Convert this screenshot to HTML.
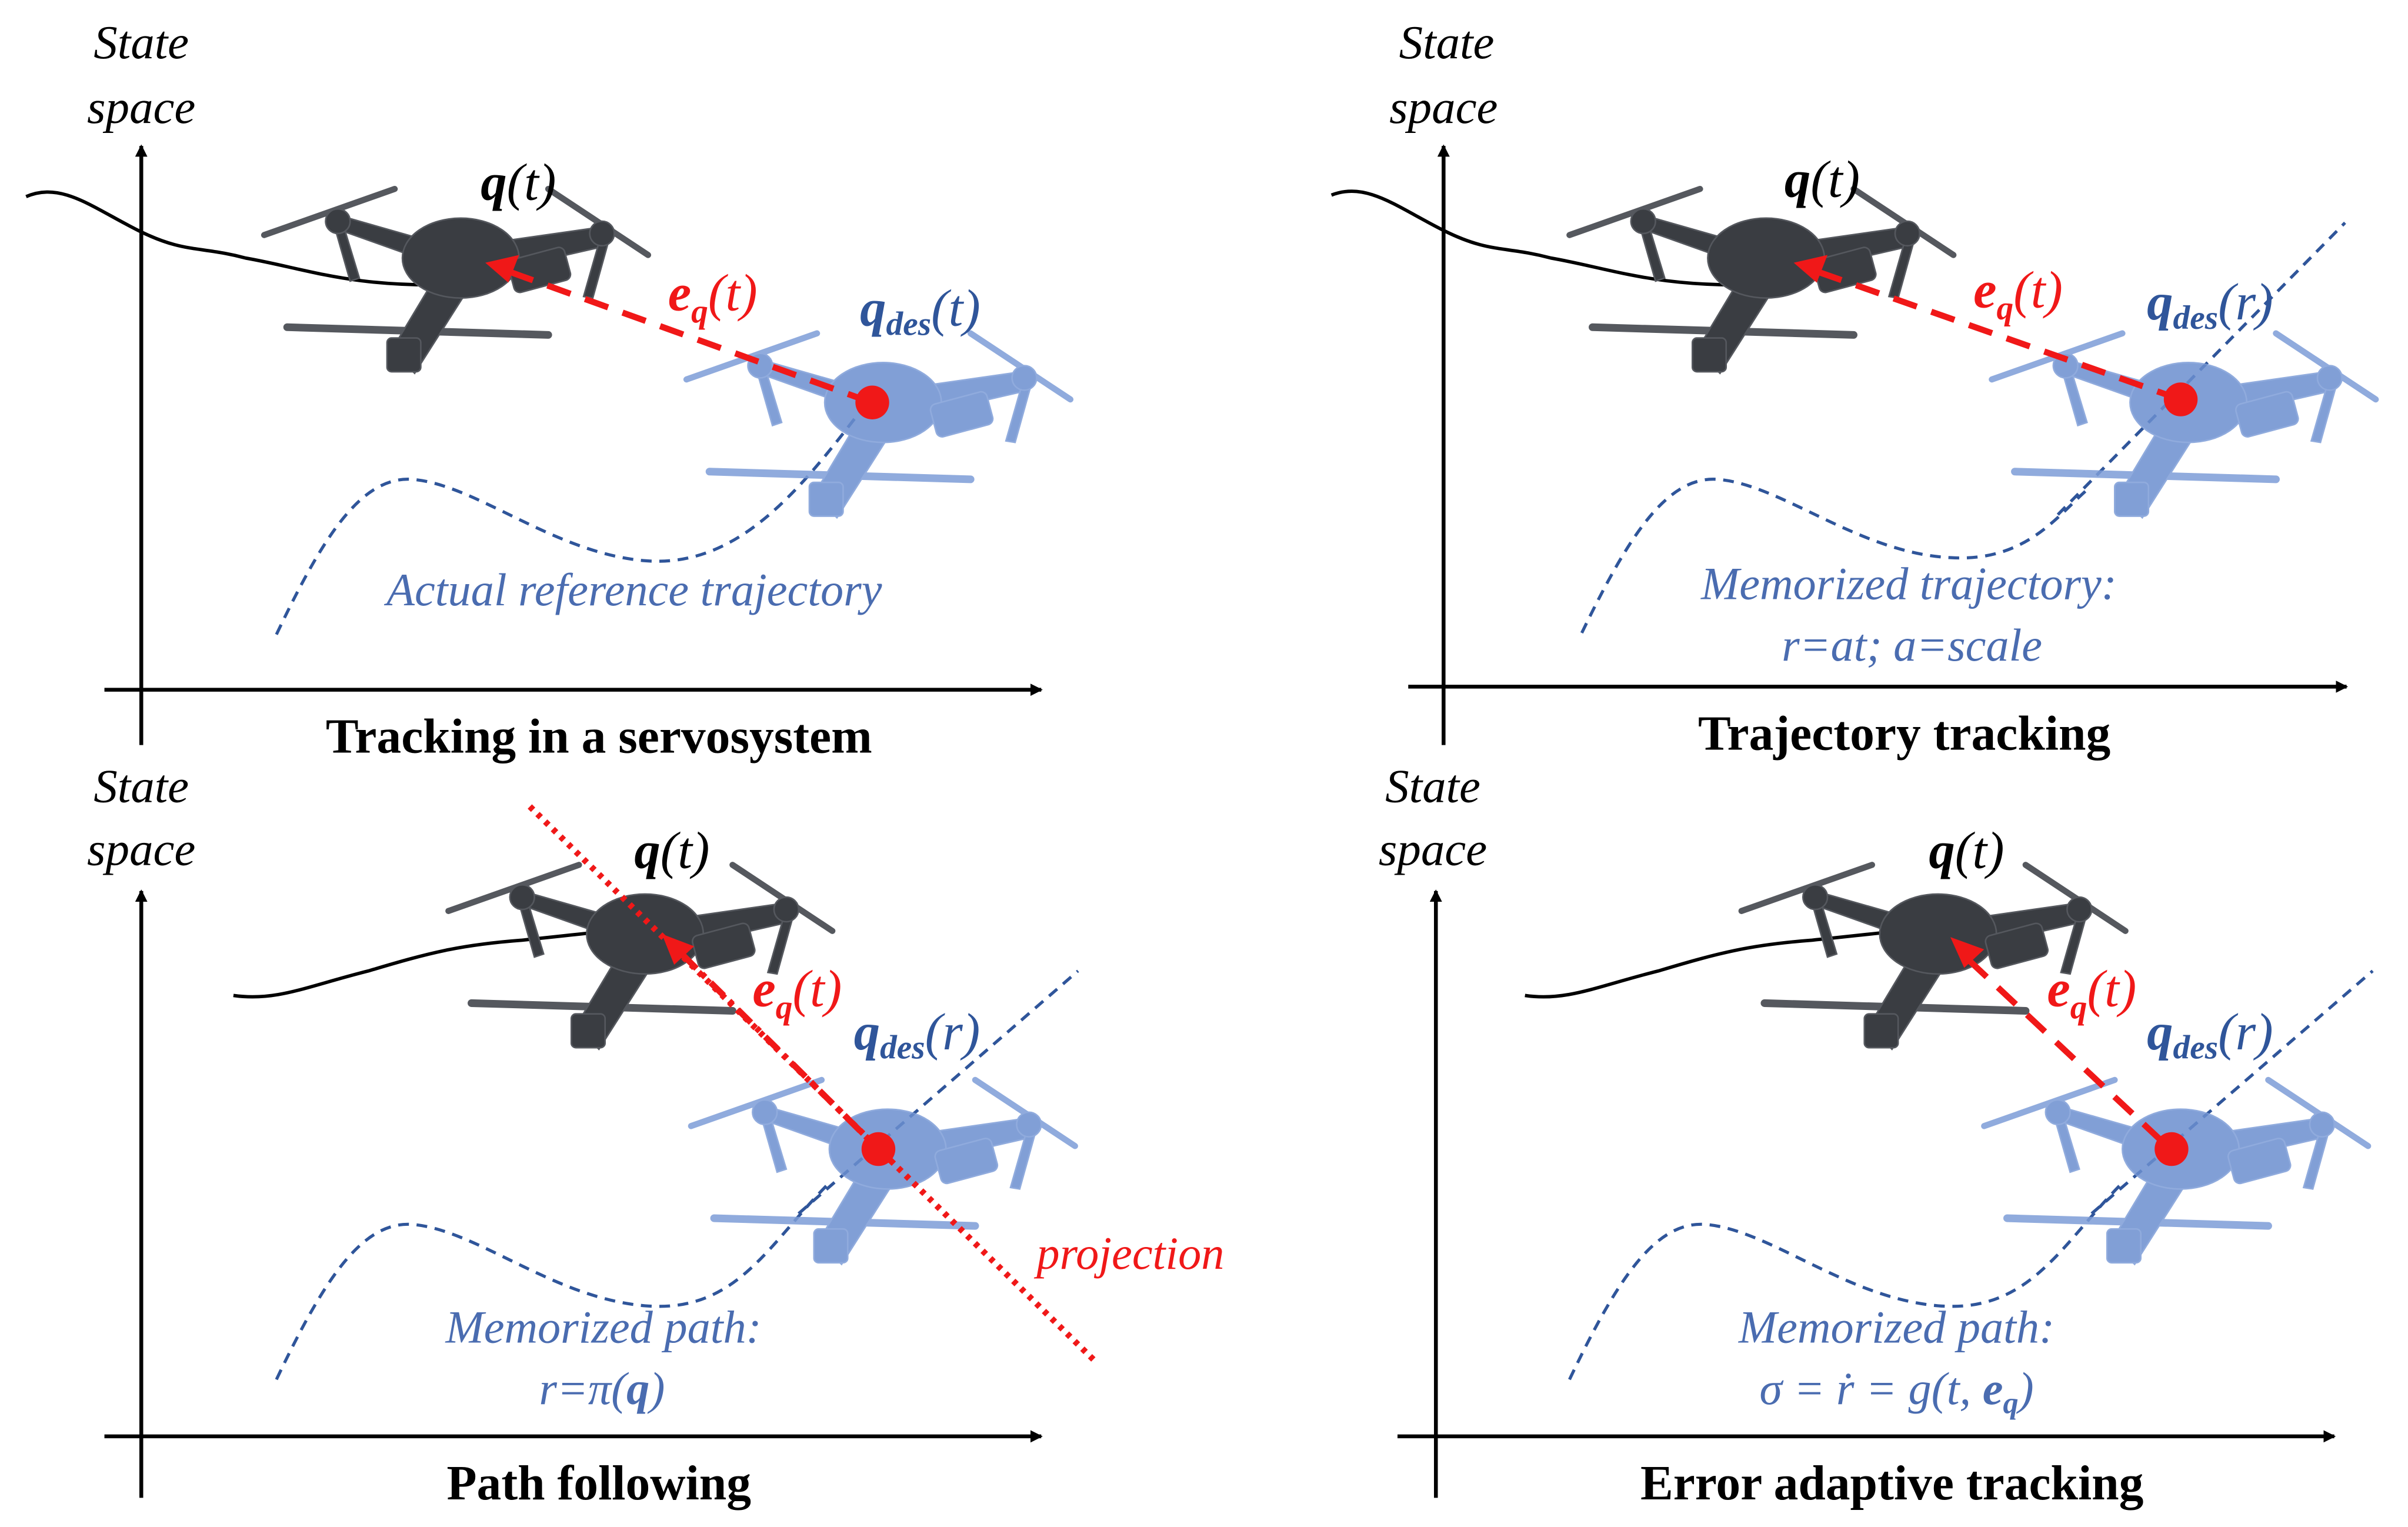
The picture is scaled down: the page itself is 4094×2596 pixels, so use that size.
<!DOCTYPE html>
<html><head><meta charset="utf-8"><style>
html,body{margin:0;padding:0;background:#fff;}
svg{display:block;}
text{font-family:"Liberation Serif",serif;}
.it{font-style:italic;}
.bt{font-weight:bold;}
</style></head><body>
<svg width="4094" height="2596" viewBox="0 0 1568 994" preserveAspectRatio="none" xmlns="http://www.w3.org/2000/svg">
<defs>
<marker id="ah" markerWidth="8" markerHeight="8" refX="7" refY="4" orient="auto" markerUnits="userSpaceOnUse"><path d="M0,0 L8,4 L0,8 z" fill="#000"/></marker>
<g id="drone">
 <line x1="-128" y1="-15" x2="-43" y2="-45" stroke-width="4" stroke-linecap="round"/>
 <line x1="57" y1="-45" x2="122" y2="-2" stroke-width="4" stroke-linecap="round"/>
 <line x1="-113" y1="45" x2="57" y2="50" stroke-width="5" stroke-linecap="round"/>
 <path d="M-80,-28 L-10,-8 L-5,8 L-78,-18 z"/>
 <path d="M90,-20 L20,-10 L25,8 L95,-8 z"/>
 <path d="M-15,10 L-45,60 L-30,75 L5,20 z"/>
 <rect x="-48" y="52" width="22" height="22" rx="3"/>
 <path d="M-82,-20 L-72,15 L-66,13 L-76,-20 z"/>
 <path d="M90,-10 L80,25 L86,26 L96,-10 z"/>
 <ellipse cx="0" cy="0" rx="38" ry="26"/>
 <rect x="30" y="2" width="38" height="22" rx="4" transform="rotate(-15 30 2)"/>
 <circle cx="-80" cy="-24" r="8"/>
 <circle cx="92" cy="-16" r="8"/>
</g>
</defs>

<!-- ===== Panel TL ===== -->
<text class="it" x="92" y="38" font-size="31" text-anchor="middle">State</text>
<text class="it" x="92" y="80" font-size="31" text-anchor="middle">space</text>
<line x1="92" y1="485" x2="92" y2="95" stroke="#000" stroke-width="2.5" marker-end="url(#ah)"/>
<line x1="68" y1="449" x2="678" y2="449" stroke="#000" stroke-width="2.5" marker-end="url(#ah)"/>
<path d="M17,128 C40,118 60,135 90,150 C120,165 130,160 160,168 C200,175 230,188 300,185" fill="none" stroke="#000" stroke-width="2.2"/>
<use href="#drone" x="300" y="168" fill="#3a3d42" stroke="#55585e"/>
<path d="M180,413 C210,350 235,310 268,312 C310,315 360,360 420,365 C480,370 520,320 560,268" fill="none" stroke="#2f559a" stroke-width="2" stroke-dasharray="7,5"/>
<use href="#drone" x="575" y="262" fill="#6c8fd0" stroke="#7d9dd8" opacity="0.85"/>
<line x1="332" y1="177" x2="562" y2="260" stroke="#f01818" stroke-width="4" stroke-dasharray="16,10"/>
<path d="M316,171 L338,166 L331,184 z" fill="#f01818"/>
<circle cx="568" cy="262" r="11" fill="#f01818"/>
<text class="it bt" x="313" y="130" font-size="34">q<tspan font-weight="normal">(t)</tspan></text>
<text class="it bt" x="435" y="202" font-size="34" fill="#f01818">e<tspan font-size="22" dy="8">q</tspan><tspan font-weight="normal" dy="-8">(t)</tspan></text>
<text class="it bt" x="560" y="212" font-size="34" fill="#2f559a">q<tspan font-size="22" dy="6">des</tspan><tspan font-weight="normal" dy="-6">(t)</tspan></text>
<text class="it" x="413" y="394" font-size="30" fill="#4a6cb0" text-anchor="middle">Actual reference trajectory</text>
<text class="bt" x="390" y="490" font-size="32" text-anchor="middle">Tracking in a servosystem</text>

<!-- ===== Panel TR ===== -->
<text class="it" x="942" y="38" font-size="31" text-anchor="middle">State</text>
<text class="it" x="940" y="80" font-size="31" text-anchor="middle">space</text>
<line x1="940" y1="485" x2="940" y2="95" stroke="#000" stroke-width="2.5" marker-end="url(#ah)"/>
<line x1="917" y1="447" x2="1528" y2="447" stroke="#000" stroke-width="2.5" marker-end="url(#ah)"/>
<path d="M867,127 C890,118 910,135 940,150 C970,165 980,160 1010,168 C1050,175 1080,188 1150,185" fill="none" stroke="#000" stroke-width="2.2"/>
<use href="#drone" x="1150" y="168" fill="#3a3d42" stroke="#55585e"/>
<path d="M1030,412 C1060,350 1085,310 1118,312 C1160,315 1210,360 1270,363 C1320,366 1340,335 1360,318" fill="none" stroke="#2f559a" stroke-width="2" stroke-dasharray="7,5"/>
<line x1="1340" y1="335" x2="1527" y2="145" stroke="#2f559a" stroke-width="2" stroke-dasharray="7,5"/>
<use href="#drone" x="1425" y="262" fill="#6c8fd0" stroke="#7d9dd8" opacity="0.85"/>
<line x1="1184" y1="177" x2="1414" y2="258" stroke="#f01818" stroke-width="4" stroke-dasharray="16,10"/>
<path d="M1168,171 L1190,166 L1183,184 z" fill="#f01818"/>
<circle cx="1420" cy="260" r="11" fill="#f01818"/>
<text class="it bt" x="1162" y="128" font-size="34">q<tspan font-weight="normal">(t)</tspan></text>
<text class="it bt" x="1285" y="200" font-size="34" fill="#f01818">e<tspan font-size="22" dy="8">q</tspan><tspan font-weight="normal" dy="-8">(t)</tspan></text>
<text class="it bt" x="1398" y="208" font-size="34" fill="#2f559a">q<tspan font-size="22" dy="6">des</tspan><tspan font-weight="normal" dy="-6">(r)</tspan></text>
<text class="it" x="1243" y="390" font-size="30" fill="#4a6cb0" text-anchor="middle">Memorized trajectory:</text>
<text class="it" x="1245" y="430" font-size="30" fill="#4a6cb0" text-anchor="middle">r=at;  a=scale</text>
<text class="bt" x="1240" y="488" font-size="32" text-anchor="middle">Trajectory tracking</text>

<!-- ===== Panel BL ===== -->
<text class="it" x="92" y="522" font-size="31" text-anchor="middle">State</text>
<text class="it" x="92" y="563" font-size="31" text-anchor="middle">space</text>
<line x1="92" y1="975" x2="92" y2="580" stroke="#000" stroke-width="2.5" marker-end="url(#ah)"/>
<line x1="68" y1="935" x2="678" y2="935" stroke="#000" stroke-width="2.5" marker-end="url(#ah)"/>
<path d="M152,648 C180,652 200,642 240,632 C280,620 300,615 340,612 C380,608 400,605 430,604" fill="none" stroke="#000" stroke-width="2.2"/>
<use href="#drone" x="420" y="608" fill="#3a3d42" stroke="#55585e"/>
<path d="M180,898 C210,835 235,795 268,797 C310,800 360,845 420,850 C480,855 500,810 540,770" fill="none" stroke="#2f559a" stroke-width="2" stroke-dasharray="7,5"/>
<line x1="520" y1="790" x2="702" y2="632" stroke="#2f559a" stroke-width="2" stroke-dasharray="7,5"/>
<use href="#drone" x="578" y="748" fill="#6c8fd0" stroke="#7d9dd8" opacity="0.85"/>
<line x1="345" y1="525" x2="712" y2="885" stroke="#f01818" stroke-width="4" stroke-dasharray="3,4"/>
<line x1="445" y1="622" x2="568" y2="744" stroke="#f01818" stroke-width="4" stroke-dasharray="12,5,3,5"/>
<path d="M431,608 L452,616 L439,628 z" fill="#f01818"/>
<circle cx="572" cy="748" r="11" fill="#f01818"/>
<text class="it bt" x="413" y="565" font-size="34">q<tspan font-weight="normal">(t)</tspan></text>
<text class="it bt" x="490" y="655" font-size="34" fill="#f01818">e<tspan font-size="22" dy="8">q</tspan><tspan font-weight="normal" dy="-8">(t)</tspan></text>
<text class="it bt" x="556" y="683" font-size="34" fill="#2f559a">q<tspan font-size="22" dy="6">des</tspan><tspan font-weight="normal" dy="-6">(r)</tspan></text>
<text class="it" x="675" y="826" font-size="30" fill="#f01818">projection</text>
<text class="it" x="393" y="874" font-size="30" fill="#4a6cb0" text-anchor="middle">Memorized path:</text>
<text class="it" x="392" y="914" font-size="30" fill="#4a6cb0" text-anchor="middle">r=π(<tspan font-weight="bold">q</tspan>)</text>
<text class="bt" x="390" y="976" font-size="32" text-anchor="middle">Path following</text>

<!-- ===== Panel BR ===== -->
<text class="it" x="933" y="522" font-size="31" text-anchor="middle">State</text>
<text class="it" x="933" y="563" font-size="31" text-anchor="middle">space</text>
<line x1="935" y1="975" x2="935" y2="580" stroke="#000" stroke-width="2.5" marker-end="url(#ah)"/>
<line x1="910" y1="935" x2="1520" y2="935" stroke="#000" stroke-width="2.5" marker-end="url(#ah)"/>
<path d="M993,648 C1020,652 1040,642 1080,632 C1120,620 1140,615 1180,612 C1220,608 1240,605 1270,604" fill="none" stroke="#000" stroke-width="2.2"/>
<use href="#drone" x="1262" y="608" fill="#3a3d42" stroke="#55585e"/>
<path d="M1022,898 C1052,835 1077,795 1110,797 C1152,800 1202,845 1262,850 C1322,855 1342,810 1382,770" fill="none" stroke="#2f559a" stroke-width="2" stroke-dasharray="7,5"/>
<line x1="1362" y1="790" x2="1545" y2="632" stroke="#2f559a" stroke-width="2" stroke-dasharray="7,5"/>
<use href="#drone" x="1420" y="748" fill="#6c8fd0" stroke="#7d9dd8" opacity="0.85"/>
<line x1="1282" y1="625" x2="1410" y2="745" stroke="#f01818" stroke-width="4" stroke-dasharray="16,10"/>
<path d="M1270,610 L1292,618 L1279,630 z" fill="#f01818"/>
<circle cx="1414" cy="748" r="11" fill="#f01818"/>
<text class="it bt" x="1256" y="565" font-size="34">q<tspan font-weight="normal">(t)</tspan></text>
<text class="it bt" x="1333" y="655" font-size="34" fill="#f01818">e<tspan font-size="22" dy="8">q</tspan><tspan font-weight="normal" dy="-8">(t)</tspan></text>
<text class="it bt" x="1398" y="683" font-size="34" fill="#2f559a">q<tspan font-size="22" dy="6">des</tspan><tspan font-weight="normal" dy="-6">(r)</tspan></text>
<text class="it" x="1235" y="874" font-size="30" fill="#4a6cb0" text-anchor="middle">Memorized path:</text>
<text class="it" x="1235" y="914" font-size="30" fill="#4a6cb0" text-anchor="middle">σ = ṙ = g(t, <tspan font-weight="bold">e</tspan><tspan font-size="20" dy="6" font-weight="bold">q</tspan><tspan dy="-6">)</tspan></text>
<text class="bt" x="1232" y="976" font-size="32" text-anchor="middle">Error adaptive tracking</text>
</svg>
</body></html>
